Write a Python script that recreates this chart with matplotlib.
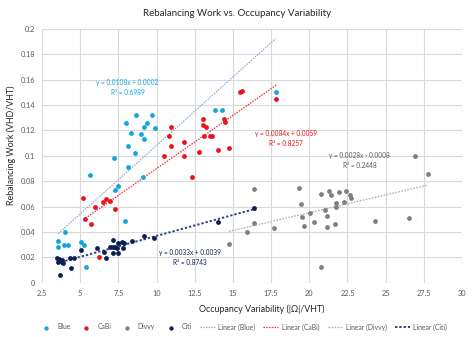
import matplotlib
matplotlib.use("Agg")
import matplotlib.pyplot as plt
import numpy as np

plt.rcParams['font.family'] = ['Lato', 'DejaVu Sans']

blue_x = [17.8, 13.8, 14.3, 8.68, 9.7, 8.0, 9.38, 9.18, 9.88, 8.33, 9.0, 9.2, 8.11, 8.57, 7.2,
          8.11, 5.66, 9.09, 7.46, 7.26, 7.94, 4.03, 3.57, 3.57, 3.96, 4.18, 5.05, 5.27, 5.4]
blue_y = [0.150, 0.136, 0.136, 0.132, 0.132, 0.126, 0.126, 0.123, 0.122, 0.118, 0.117, 0.113, 0.108, 0.102, 0.098,
          0.091, 0.085, 0.083, 0.076, 0.073, 0.049, 0.040, 0.033, 0.028, 0.030, 0.030, 0.032, 0.030, 0.012]

cabi_x = [15.45, 15.62, 17.84, 13.06, 14.4, 14.45, 13.04, 13.26, 10.95, 10.8, 13.1, 13.5, 13.63, 11.78, 10.95,
          10.5, 11.77, 12.8, 14.0, 14.73, 12.34, 5.2, 6.47, 6.69, 6.95, 6.0, 7.27, 5.3, 5.71, 6.21]
cabi_y = [0.150, 0.151, 0.1446, 0.129, 0.129, 0.127, 0.1246, 0.123, 0.123, 0.116, 0.116, 0.116, 0.116, 0.111, 0.108,
          0.100, 0.100, 0.103, 0.105, 0.106, 0.083, 0.067, 0.064, 0.066, 0.0647, 0.060, 0.058, 0.050, 0.046, 0.020]

divvy_x = [26.93, 27.76, 16.38, 19.35, 20.75, 21.3, 21.45, 21.97, 22.41, 22.65, 22.74, 19.44, 21.73, 22.26, 21.75,
           21.0, 20.07, 19.5, 21.18, 20.31, 21.67, 21.14, 19.64, 17.67, 16.38, 15.92, 14.73, 24.33, 26.51, 20.8]
divvy_y = [0.100, 0.086, 0.0739, 0.0749, 0.070, 0.0723, 0.0689, 0.0713, 0.0723, 0.0689, 0.067, 0.062, 0.063, 0.0639, 0.060,
           0.057, 0.055, 0.052, 0.0528, 0.048, 0.046, 0.044, 0.0447, 0.043, 0.0468, 0.040, 0.0308, 0.0489, 0.051, 0.012]

citi_x = [3.48, 3.63, 3.79, 3.57, 3.83, 3.9, 4.33, 4.62, 4.42, 3.66, 5.04, 6.12, 6.54, 6.69, 7.17,
          6.97, 7.17, 7.3, 7.5, 7.76, 7.87, 7.43, 7.17, 7.46, 7.78, 8.41, 9.2, 9.81, 14.05, 16.38]
citi_y = [0.0192, 0.0184, 0.0179, 0.0166, 0.0166, 0.0153, 0.0197, 0.0192, 0.0118, 0.0058, 0.0258, 0.0276, 0.024, 0.0192, 0.0337,
          0.0284, 0.0284, 0.0279, 0.031, 0.0323, 0.031, 0.0276, 0.0232, 0.0237, 0.0276, 0.0331, 0.037, 0.035, 0.048, 0.0591]

# trendline coefficients as printed on the chart
fits = {
    'Blue': (0.0108, 0.0002),
    'CaBi': (0.0084, 0.0059),
    'Divvy': (0.0028, -0.0008),
    'Citi': (0.0033, 0.0039),
}

series = [
    ('Blue', blue_x, blue_y, '#12A5DE', '#8EA9DB', 0.9),
    ('CaBi', cabi_x, cabi_y, '#E8141C', '#F03030', 0.9),
    ('Divvy', divvy_x, divvy_y, '#7F7F7F', '#B4B4B4', 1.0),
    ('Citi', citi_x, citi_y, '#0B1E55', '#2E4485', 1.4),
]

fig = plt.figure(figsize=(4.74, 3.37), dpi=100)
ax = fig.add_axes([42/474, 1-282.7/337, 420/474, (282.7-29)/337])

txtc = '#595959'
handles_pts = []
handles_lines = []
for name, xs, ys, c, lc, lw in series:
    h = ax.scatter(xs, ys, s=12, color=c, zorder=3, linewidths=0, label=name)
    handles_pts.append(h)
for name, xs, ys, c, lc, lw in series:
    m, b = fits[name]
    xx = np.array([min(xs), max(xs)])
    l, = ax.plot(xx, m*xx + b, linestyle=(0, (1.2, 1.0)), color=lc, lw=lw, zorder=2,
                 label='Linear (%s)' % name)
    handles_lines.append(l)

ax.set_xlim(2.5, 30)
ax.set_ylim(0, 0.2)
ax.set_xticks(np.arange(2.5, 30.01, 2.5))
ax.set_xticklabels(['2.5', '5', '7.5', '10', '12.5', '15', '17.5', '20', '22.5', '25', '27.5', '30'])
ax.set_yticks(np.arange(0, 0.2001, 0.02))
ax.set_yticklabels(['0', '0.02', '0.04', '0.06', '0.08', '0.1', '0.12', '0.14', '0.16', '0.18', '0.2'])
ax.grid(True, color='#D9D9D9', lw=0.8)
ax.set_axisbelow(True)
for s in ax.spines.values():
    s.set_visible(False)
ax.tick_params(axis='both', length=0, labelsize=5.3, labelcolor=txtc, pad=5)

fig.text(237/474, 1-13/337, 'Rebalancing Work vs. Occupancy Variability', fontsize=7,
         color='#262626', ha='center', va='center')
fig.text(262/474, 1-309/337, 'Occupancy Variability (|Ω|/VHT)', fontsize=6.4,
         color='#262626', ha='center', va='center')
fig.text(11/474, 1-145/337, 'Rebalancing Work (VHD/VHT)', fontsize=6.4,
         color='#262626', ha='center', va='center', rotation=90)

eqs = [
    (8.1, 0.1605, 'y = 0.0108x + 0.0002\nR² = 0.6989', '#12A5DE'),
    (18.5, 0.1205, 'y = 0.0084x + 0.0059\nR² = 0.8257', '#E8141C'),
    (23.3, 0.1030, 'y = 0.0028x - 0.0008\nR² = 0.2448', txtc),
    (12.2, 0.0265, 'y = 0.0033x + 0.0039\nR² = 0.8743', '#0B1E55'),
]
for x, y, t, c in eqs:
    ax.text(x, y, t, fontsize=4.7, color=c, ha='center', va='top', linespacing=1.55)

leg = fig.legend(handles=handles_pts + handles_lines, loc='center', bbox_to_anchor=(243/474, 1-327/337),
                 ncol=8, frameon=False, fontsize=4.9, handlelength=2.2, handletextpad=0.5,
                 columnspacing=1.2, markerscale=0.9, labelcolor=txtc, scatterpoints=1)
fig.savefig('out.png', dpi=100)
